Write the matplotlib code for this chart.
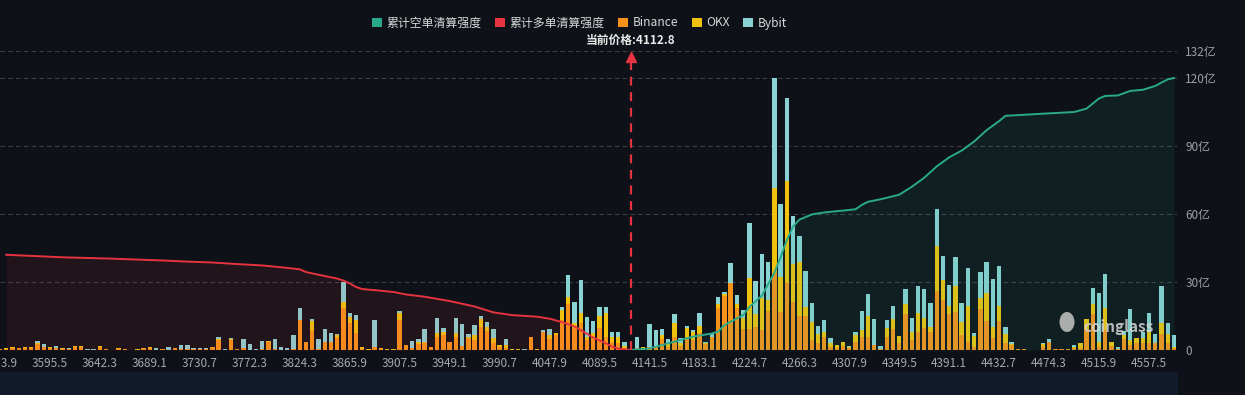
import numpy as np
import matplotlib
matplotlib.use("Agg")
import matplotlib.pyplot as plt
from matplotlib.patches import Patch, Rectangle, Ellipse

plt.rcParams['font.family'] = ['Noto Sans CJK SC', 'DejaVu Sans']

# x axis: one price bucket per bar, a label every 8 buckets
price_labels = ["3553.9", "3595.5", "3642.3", "3689.1", "3730.7", "3772.3",
                "3824.3", "3865.9", "3907.5", "3949.1", "3990.7", "4047.9",
                "4089.5", "4141.5", "4183.1", "4224.7", "4266.3", "4307.9",
                "4349.5", "4391.1", "4432.7", "4474.3", "4515.9", "4557.5"]
label_every = 8
current_price = "4112.8"
current_idx = 101

# liquidation volume per bucket (亿)
binance = [0.3, 0.5, 0.8, 0.7, 0.7, 0.8, 2.6, 1.2, 0.8, 0.9,
           0.5, 0.4, 1.5, 1.3, 0.1, 0.1, 1.5, 0.3, 0.1, 0.6,
           0.3, 0, 0.2, 0.8, 1.0, 0.1, 0.3, 0.2, 0.8, 0.4,
           0.4, 0.3, 0.3, 0.4, 1.2, 4.4, 0, 4.4, 0.3, 0.8,
           0.2, 0, 0.3, 3.6, 0.5, 0.2, 0.1, 0.3, 13.4, 3.5,
           8.5, 0.5, 3.7, 3.7, 5.5, 18.4, 11.8, 7.4, 0.3, 0.2,
           1.2, 0.4, 0.2, 0.2, 13.2, 2.1, 0.7, 2.7, 3.2, 1.5,
           5.9, 6.6, 3.4, 5.6, 1.8, 5.1, 4.4, 10.0, 8.5, 3.2,
           1.5, 1.1, 0.1, 0.2, 0, 5.9, 0.2, 8.1, 4.7, 6.6,
           13.2, 20.3, 10.0, 11.8, 4.4, 5.1, 9.6, 5.9, 3.7, 2.9,
           0.8, 0, 0.8, 1.0, 1.5, 1.2, 4.7, 1.5, 5.9, 1.6,
           5.1, 4.4, 7.4, 2.5, 5.9, 18.7, 23.8, 29.7, 18.4, 9.1,
           9.1, 10.3, 8.8, 17.0, 33.8, 16.6, 29.4, 21.3, 15.0, 15.0,
           4.4, 3.2, 5.9, 1.5, 1.0, 1.9, 1.0, 3.7, 5.9, 5.9,
           2.2, 0.4, 5.9, 9.1, 2.9, 15.9, 4.4, 8.1, 9.8, 7.8,
           26.0, 22.0, 15.9, 16.6, 6.6, 3.4, 1.5, 18.1, 12.9, 5.4,
           12.8, 2.9, 2.0, 0.3, 0.4, 0.1, 0, 1.5, 3.7, 0.3,
           0.6, 0.3, 0.8, 0.7, 9.1, 15.9, 1.5, 8.8, 1.9, 0.3,
           4.7, 2.2, 2.9, 2.9, 2.9, 2.9, 7.1, 2.9, 0.7]
okx = [0, 0.2, 0.7, 0, 0.6, 0.4, 0.3, 0, 0.4, 0,
       0.2, 0, 0.3, 0.3, 0, 0, 0.3, 0, 0, 0.1,
       0, 0.2, 0.1, 0.2, 0.2, 0, 0, 0, 0.2, 0,
       0.2, 0, 0, 0, 0, 0.3, 0, 0.5, 0, 0.3,
       0, 0, 0, 0.3, 0, 0, 0, 0, 0, 0.2,
       4.5, 0, 0, 0, 1.0, 2.9, 2.6, 5.9, 1.0, 0.2,
       0, 0.3, 0.2, 0.2, 3.2, 0, 0, 1.0, 0.5, 0,
       1.5, 1.5, 0, 2.1, 0, 0.8, 2.2, 3.5, 1.5, 1.9,
       0.6, 0.9, 0.3, 0.4, 0, 0, 0.4, 0, 1.9, 1.0,
       4.4, 3.2, 1.8, 4.4, 1.5, 2.2, 5.4, 10.3, 1.9, 2.9,
       1.0, 0, 0, 0.5, 0, 0, 1.9, 1.5, 5.9, 1.5,
       4.4, 3.7, 3.4, 0.5, 0, 1.6, 0.9, 0, 1.9, 4.9,
       22.5, 5.6, 14.0, 5.0, 37.8, 15.7, 45.3, 16.6, 24.0, 3.8,
       8.1, 3.8, 1.9, 1.5, 1.2, 1.5, 0.3, 2.9, 2.9, 9.1,
       0, 0, 4.0, 4.4, 3.2, 4.4, 3.7, 8.4, 4.4, 2.5,
       20.0, 8.8, 3.5, 11.8, 5.6, 16.2, 4.7, 4.7, 12.1, 4.9,
       6.8, 4.1, 0.8, 0, 0, 0, 0, 1.0, 0, 0,
       0, 0.1, 0.7, 2.2, 4.4, 4.4, 2.2, 9.6, 1.8, 0.2,
       1.9, 2.2, 2.2, 2.6, 5.1, 0, 5.0, 4.1, 0.8]
bybit = [0.2, 0, 0, 0, 0, 0, 1.1, 1.3, 0, 0.9,
         0, 0.6, 0, 0, 0.5, 0.5, 0, 0, 0, 0,
         0, 0, 0, 0, 0, 0.8, 0.3, 1.1, 0, 1.7,
         1.5, 0.6, 0.4, 0.3, 0.3, 0.9, 0.3, 0.4, 0, 3.8,
         2.3, 0.4, 3.7, 0.1, 4.5, 1.3, 0.9, 6.2, 5.0, 0,
         0.5, 4.2, 5.4, 3.7, 0.4, 8.8, 2.1, 2.2, 0.2, 0,
         12.0, 0, 0, 0, 0.9, 0, 3.4, 1.2, 5.4, 0,
         6.6, 1.5, 0, 6.3, 9.5, 1.2, 4.4, 1.5, 2.2, 4.0,
         0, 2.9, 0, 0, 0.3, 0, 0, 0.7, 2.5, 0,
         1.5, 9.6, 9.5, 14.7, 8.5, 5.6, 3.8, 2.6, 2.5, 2.2,
         1.9, 0, 4.8, 0, 9.8, 7.6, 2.8, 1.9, 4.0, 2.0,
         1.2, 0.7, 5.7, 0.7, 1.8, 2.9, 1.0, 8.8, 4.0, 3.7,
         24.3, 14.6, 19.6, 17.0, 48.2, 32.0, 36.3, 21.3, 11.3, 16.0,
         8.4, 3.7, 5.4, 2.2, 0, 0, 0.5, 1.5, 8.4, 9.7,
         11.3, 1.4, 3.4, 5.9, 0, 6.5, 6.2, 11.8, 12.6, 10.3,
         16.0, 10.7, 9.3, 12.5, 8.7, 16.5, 1.2, 11.8, 13.7, 21.0,
         17.6, 3.2, 0.6, 0, 0, 0, 0, 0.4, 1.0, 0,
         0, 0, 0.7, 0, 0, 6.9, 21.6, 15.1, 0, 0.7,
         1.9, 13.7, 0, 2.5, 8.5, 4.1, 16.2, 4.7, 5.1]

# cumulative liquidation strength (亿), read at selected buckets
long_idx = [1, 6, 10, 14, 18, 22, 26, 30, 34, 38, 42, 45, 48, 49, 51, 54, 55,
            56, 57, 58, 60, 63, 65, 68, 72, 76, 79, 82, 86, 88, 90, 92, 94,
            95, 97, 98, 99, 101]
long_cum = [42.0, 41.4, 40.9, 40.6, 40.3, 39.9, 39.5, 39.0, 38.6, 37.9, 37.3,
            36.5, 35.6, 34.4, 33.2, 31.5, 30.6, 29.4, 27.8, 26.9, 26.4, 25.6,
            24.5, 23.5, 21.6, 19.2, 16.6, 15.4, 14.7, 13.8, 12.3, 10.4, 7.2,
            5.5, 3.0, 1.5, 0.6, 0]
short_idx = [101, 104, 108, 111, 114, 115, 116, 119, 120, 122, 123, 124, 125,
             126, 127, 128, 130, 132, 135, 137, 138, 139, 141, 144, 146, 148,
             150, 152, 154, 156, 158, 160, 161, 166, 172, 174, 176, 177, 179,
             181, 183, 185, 186, 187, 188]
short_cum = [0, 0.7, 3.7, 5.9, 7.3, 8.1, 11.0, 15.4, 19.0, 24.0, 29.0, 34.0,
             41.0, 48.5, 54.5, 57.5, 59.8, 60.7, 61.5, 62.1, 64.0, 65.4, 66.5,
             68.5, 72.0, 76.0, 81.0, 85.0, 88.0, 92.0, 97.0, 101.0, 103.3,
             104.1, 105.0, 106.5, 111.0, 112.1, 112.3, 114.3, 114.8, 116.5,
             118.0, 119.4, 120.0]

y_ticks = [0, 30, 60, 90, 120, 132]

BG = '#0e1117'
C_SHORT = '#2aaa8a'
C_LONG = '#e5333f'
C_BIN = '#f7931a'
C_OKX = '#f0c20f'
C_BYB = '#8ad3d4'

fig = plt.figure(figsize=(12.45, 3.95), dpi=100, facecolor=BG)
ax = fig.add_axes([0, 45 / 395, 1177 / 1245, 299.2 / 395])
ax.set_facecolor(BG)

x = np.arange(len(binance))
b = np.array(binance)
o = np.array(okx)
y = np.array(bybit)
ax.bar(x, b, width=0.7, color=C_BIN, zorder=2)
ax.bar(x, o, width=0.7, bottom=b, color=C_OKX, zorder=2)
ax.bar(x, y, width=0.7, bottom=b + o, color=C_BYB, zorder=2)

# cumulative lines with shaded area
ax.fill_between(long_idx, long_cum, 0, color=C_LONG, alpha=0.09, lw=0, zorder=3)
ax.plot(long_idx, long_cum, color=C_LONG, lw=1.4, zorder=4)
ax.fill_between(short_idx, short_cum, 0, color=C_SHORT, alpha=0.1, lw=0, zorder=3)
ax.plot(short_idx, short_cum, color=C_SHORT, lw=1.4, zorder=4)

# current price marker
ax.vlines(current_idx, 0, 127, colors=C_LONG, linestyles=(0, (4, 3)), lw=1.6, zorder=5)
ax.plot([current_idx], [129.3], marker='^', ms=7, color=C_LONG, clip_on=False, zorder=6)
ax.text(current_idx, 136.8, f"当前价格:{current_price}", ha='center', va='center',
        fontsize=8.5, fontweight='bold', color='#e8e8e8', clip_on=False)

ax.set_xlim(1.65, 188.48)
ax.set_ylim(0, 132)
ax.set_xticks(np.arange(0, len(price_labels) * label_every, label_every))
ax.set_xticklabels(price_labels)
ax.set_yticks(y_ticks)
ax.set_yticklabels([f"{v}亿" if v else "0" for v in y_ticks])
ax.yaxis.tick_right()
ax.tick_params(axis='x', length=0, pad=5, labelsize=8.5, labelcolor='#a4a8b0')
ax.tick_params(axis='y', length=0, pad=6, labelsize=8.5, labelcolor='#9aa0a8')
for lab in ax.get_yticklabels():
    lab.set_horizontalalignment('left')
ax.set_axisbelow(True)
ax.grid(axis='y', color='#3a3f47', linestyle=(0, (4, 3)), lw=0.8)
for s in ax.spines.values():
    s.set_visible(False)

# slider strip at the bottom
fig.patches.append(Rectangle((0, 0), 1178 / 1245, 23 / 395, transform=fig.transFigure,
                             facecolor='#111a2b', edgecolor='none', zorder=0))

# watermark
fig.patches.append(Ellipse((1067 / 1245, 1 - 322 / 395), 15 / 1245, 20 / 395,
                           transform=fig.transFigure, facecolor='#bdbdbd',
                           edgecolor='none', alpha=0.9))
fig.text(1083 / 1245, 1 - 327 / 395, "coinglass", fontsize=11, fontweight='bold',
         color='#d5d5d5', alpha=0.85, va='center', ha='left')

handles = [Patch(facecolor=C_SHORT, edgecolor='none'),
           Patch(facecolor=C_LONG, edgecolor='none'),
           Patch(facecolor=C_BIN, edgecolor='none'),
           Patch(facecolor=C_OKX, edgecolor='none'),
           Patch(facecolor=C_BYB, edgecolor='none')]
labels = ["累计空单清算强度", "累计多单清算强度", "Binance", "OKX", "Bybit"]
fig.legend(handles, labels, loc='center', bbox_to_anchor=(0.4655, 1 - 23 / 395),
           ncol=5, frameon=False, fontsize=8.6, labelcolor='#d8d8d8',
           handlelength=0.85, handleheight=0.85, handletextpad=0.4,
           columnspacing=1.1)

fig.savefig("out.png", dpi=100, facecolor=BG)
